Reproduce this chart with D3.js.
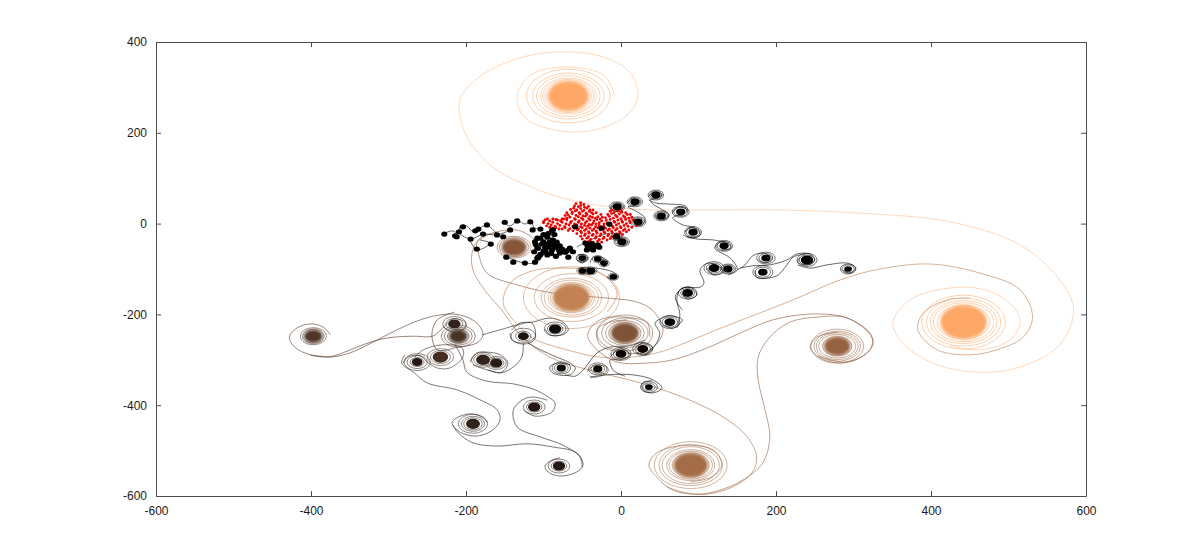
<!DOCTYPE html>
<html>
<head>
<meta charset="utf-8">
<script src="https://cdn.jsdelivr.net/npm/d3@7"></script>
<style>
html, body { margin: 0; padding: 0; background: #fff; }
svg { display: block; }
text { font-family: "Liberation Sans", sans-serif; }
</style>
</head>
<body>
<svg width="1200" height="557"></svg>
<script>
'use strict';
let xTicks = [-600, -400, -200, 0, 200, 400, 600]
let yTicks = [-600, -400, -200, 0, 200, 400]

// vortex centres, tint value (0 black .. 1 orange), core radius, rings
let vortexX = [-68, 442, -64, 90, 279, 5, -138, -397, -210, -233, -215, -263, -178, -161, -126, -85, -77, -191, -112, -80, -30, 0, 28, 36, 63, 86, 120, 138, 183, 187, 240, 293, 133, 93, 77, 52, 45, 18, 22, -5, 1, -6, -30, -22, -10, -50, -50, -39]
let vortexY = [281, -217, -163, -532, -270, -241, -52, -248, -248, -294, -221, -305, -300, -307, -248, -232, -318, -441, -404, -534, -320, -287, -276, -360, -217, -153, -98, -100, -107, -76, -80, -100, -49, -19, 26, 17, 63, 48, 4, 37, -40, -29, -78, -87, -117, -76, -104, -104]
let vortexTint = [1, 1, 0.8, 0.68, 0.62, 0.52, 0.55, 0.33, 0.3, 0.28, 0.2, 0.15, 0.2, 0.18, 0.12, 0.06, 0.05, 0.2, 0.15, 0.15, 0.04, 0.03, 0.03, 0.02, 0.01, 0, 0, 0, 0, 0, 0, 0, 0, 0, 0, 0, 0, 0, 0, 0, 0, 0, 0, 0, 0, 0, 0, 0]
let vortexCore = [26, 30, 24, 22, 17, 18, 16, 12, 12, 10, 8, 7, 9, 8, 7, 8, 6, 9, 8, 8, 6, 7, 7, 5, 7, 7, 7, 6, 6, 6, 8, 5, 6, 6, 6, 6, 6, 6, 6, 6, 6, 5, 5, 5, 5, 5, 5, 6]
let vortexRings = [
	[27, 30, 33, 36, 41, 46, 54],
	[34, 39, 43, 48, 54],
	[27, 30, 35, 39, 48, 62],
	[24, 28, 31, 37, 41, 47],
	[19, 24, 27, 30, 34],
	[21, 25, 30, 36],
	[19, 22],
	[14, 17],
	[14, 18, 22],
	[13, 17],
	[11, 15],
	[9, 13, 17],
	[12, 15],
	[10, 13],
	[10, 16],
	[10, 14],
	[9, 12],
	[12, 15, 19],
	[10, 14],
	[10, 14],
	[9, 12],
	[10, 13],
	[10, 13],
	[8, 11],
	[10, 13],
	[9, 12],
	[10, 13],
	[8, 10],
	[10, 13],
	[9, 12],
	[10, 13],
	[8, 10],
	[9, 11],
	[9, 11],
	[9, 11],
	[8, 10],
	[8, 10],
	[8, 10],
	[8, 10],
	[8, 10],
	[8, 10],
	[7],
	[7],
	[7],
	[7],
	[7, 8],
	[7],
	[8]]

// the thin paths between vortices, with their tint
let trackTint = [1, 0.78, 0.55, 0.55, 0.62, 0.68, 0.33, 0.33, 0.25, 0.2, 0.17, 0.15, 0.2, 0.18, 0.15, 0.15, 0.08, 0.06, 0.05, 0.3, 0.04, 0.03, 0.02, 0.03, 0, 0, 0, 0, 0, 0, 0, 0, 0, 0, 0, 0, 0, 0, 0, 0, 0, 0, 0, 0, 0, 0, 0, 0]
let trackPoints = [
	[[-8,281],[-21,325],[-68,345],[-117,327],[-134,281],[-124,233],[-68,202],[-14,217],[14,250],[22,288],[9,338],[-27,369],[-68,378],[-117,371],[-169,338],[-201,294],[-209,261],[-200,195],[-169,129],[-117,81],[-66,52],[-14,37],[37,30],[102,30],[205,30],[308,23],[424,4],[515,-47],[566,-124],[584,-190],[566,-267],[515,-316],[457,-327],[399,-305],[360,-256],[351,-217],[373,-168],[424,-142],[470,-146],[504,-179],[515,-217],[502,-256],[463,-278],[424,-269]],
	[[-18,-195],[-5,-153],[-27,-109],[-70,-98],[-114,-104],[-143,-131],[-152,-175],[-139,-212],[-114,-252],[-70,-278],[-27,-294],[15,-294],[50,-283],[132,-228],[222,-168],[283,-124],[334,-100],[399,-89],[463,-109],[515,-146],[531,-206],[519,-250],[485,-278],[450,-289],[408,-278],[383,-234],[390,-197],[421,-168],[450,-164]],
	[[-107,-52],[-114,-32],[-130,-16],[-147,-14],[-172,-25],[-186,-43],[-184,-65],[-173,-109],[-134,-135],[-88,-153],[-31,-162],[21,-173],[40,-190],[54,-230],[50,-256],[31,-283],[-1,-283],[-27,-267],[-31,-234],[-14,-217],[8,-212]],
	[[37,-250],[34,-219],[5,-206],[-27,-212],[-43,-245],[-31,-278],[-5,-305],[34,-307],[67,-300],[111,-274],[154,-241],[196,-212],[248,-199],[292,-208],[321,-241],[325,-267],[308,-296],[283,-307],[257,-296],[244,-272],[253,-250],[279,-239]],
	[[254,-291],[289,-305],[319,-283],[324,-252],[292,-208],[253,-206],[218,-217],[192,-250],[177,-294],[177,-344],[186,-411],[192,-470],[183,-527],[157,-565],[128,-587],[98,-596],[67,-587],[46,-558],[36,-532],[46,-505],[67,-492],[89,-488],[119,-499],[130,-532],[117,-558],[89,-569]],
	[[-160,-19],[-182,-32],[-192,-63],[-191,-102],[-173,-153],[-154,-190],[-130,-245],[-92,-294],[-40,-323],[12,-345],[50,-364],[89,-389],[132,-426],[163,-470],[175,-514],[169,-549],[144,-580],[111,-596],[83,-593],[59,-580]],
	[[-375,-245],[-384,-228],[-401,-221],[-418,-230],[-428,-250],[-421,-272],[-401,-289],[-375,-294],[-350,-285],[-320,-261],[-289,-234],[-259,-212],[-233,-201],[-208,-201],[-186,-219],[-178,-245],[-186,-263],[-210,-272],[-237,-278],[-244,-245],[-237,-212],[-215,-195]],
	[[-401,-289],[-375,-293],[-352,-280],[-330,-265],[-302,-252],[-268,-248],[-243,-248],[-230,-230],[-217,-210],[-201,-217],[-200,-228],[-215,-241],[-230,-226]],
	[[-281,-307],[-275,-294],[-259,-291],[-250,-305],[-237,-318],[-221,-318],[-204,-294],[-205,-274],[-230,-267],[-255,-278],[-266,-294]],
	[[-279,-289],[-283,-307],[-268,-327],[-250,-351],[-212,-366],[-182,-388],[-160,-410],[-156,-432],[-165,-454],[-186,-468],[-208,-459],[-218,-439],[-210,-426],[-192,-419],[-178,-428],[-172,-439]],
	[[-217,-444],[-210,-461],[-191,-483],[-160,-490],[-121,-485],[-88,-492],[-57,-505],[-49,-532],[-57,-547],[-79,-556],[-94,-547],[-98,-534],[-89,-521],[-79,-516]],
	[[-95,-389],[-114,-382],[-128,-389],[-139,-411],[-134,-448],[-104,-470],[-75,-488],[-53,-514],[-50,-536]],
	[[-214,-267],[-204,-300],[-199,-327],[-173,-347],[-139,-353],[-111,-366],[-92,-384],[-85,-395],[-89,-415],[-111,-424],[-126,-411]],
	[[-195,-305],[-186,-285],[-173,-283],[-156,-289],[-146,-307],[-154,-327],[-173,-322],[-191,-311]],
	[[-179,-245],[-156,-234],[-133,-223],[-115,-219],[-111,-250],[-126,-263],[-141,-256],[-143,-241]],
	[[-126,-263],[-128,-294],[-139,-316],[-156,-329],[-172,-322]],
	[[-141,-234],[-130,-219],[-114,-217],[-92,-208],[-75,-217],[-68,-234],[-76,-245],[-92,-245],[-98,-232]],
	[[-120,-263],[-104,-278],[-83,-294],[-68,-305],[-59,-318],[-66,-333],[-88,-329],[-92,-316],[-81,-307],[-66,-311]],
	[[-72,-333],[-59,-336],[-49,-323],[-31,-285],[-14,-272],[12,-269],[31,-256]],
	[[-44,-327],[-36,-314],[-18,-316],[-17,-327],[-31,-338],[-40,-338]],
	[[-40,-338],[-17,-333],[15,-333],[41,-344],[53,-362],[41,-373],[28,-366],[28,-351],[40,-346]],
	[[-14,-294],[-1,-276],[12,-289],[-1,-300],[-14,-300],[-10,-323],[5,-336]],
	[[31,-289],[41,-274],[46,-263],[50,-241],[44,-219],[53,-208],[63,-203],[79,-212],[67,-230],[54,-223]],
	[[19,-274],[28,-263],[41,-274],[31,-289],[19,-283]],
	[[72,-230],[76,-201],[72,-168],[76,-146],[89,-140],[98,-157],[85,-166],[79,-153]],
	[[79,-190],[70,-162],[80,-142],[102,-140],[107,-131],[102,-102],[112,-87],[128,-96],[132,-107],[119,-113],[111,-98]],
	[[138,-113],[150,-102],[141,-76],[121,-54],[128,-41],[138,-43],[142,-54],[130,-58]],
	[[85,-29],[98,-34],[119,-36],[134,-41]],
	[[83,-18],[89,-9],[99,-14],[102,-25],[92,-32],[80,-25]],
	[[66,23],[74,37],[85,30],[80,19],[70,17],[67,12],[80,-3],[95,-7]],
	[[35,59],[44,70],[53,63],[46,56],[37,52],[46,45],[63,43],[83,39],[86,30]],
	[[37,52],[41,43],[54,30],[62,19],[57,10],[46,12],[45,21]],
	[[8,45],[15,56],[25,48],[15,39],[9,37],[21,26],[31,12],[28,-1],[21,-3],[15,6]],
	[[150,-102],[160,-91],[170,-71],[183,-65],[195,-76],[186,-87],[177,-80]],
	[[154,-98],[170,-93],[192,-91],[214,-80],[227,-67],[244,-67],[250,-80],[240,-91],[228,-85],[231,-74]],
	[[173,-104],[175,-118],[190,-120],[203,-113],[214,-91],[222,-74],[238,-67]],
	[[228,-91],[244,-98],[266,-91],[292,-87],[303,-98],[295,-109],[286,-102]],
	[[-14,34],[-5,45],[3,37],[-4,26],[-14,34]],
	[[-57,-52],[-40,-36],[-14,-21],[-5,-25],[-1,-32],[9,-41],[3,-47],[-4,-43]],
	[[-40,-87],[-36,-74],[-25,-74],[-17,-85],[-23,-96]],
	[[-37,-98],[-31,-98],[-10,-107],[-4,-118],[-10,-122],[-18,-118]],
	[[-53,-98],[-44,-96],[-34,-104],[-40,-111],[-53,-109]],
	[[-55,-69],[-49,-69],[-44,-76],[-50,-87],[-57,-80]],
	[[-230,-23],[-218,-16],[-210,-21],[-207,-5],[-199,-5],[-191,-18],[-182,-10],[-174,-3],[-166,-12],[-159,-25]],
	[[-151,1],[-143,-5],[-133,6],[-124,-1],[-116,4],[-112,-9],[-104,-12]],
	[[-195,-36],[-186,-58],[-169,-43],[-182,-36]],
	[[-150,-71],[-138,-80],[-124,-87],[-108,-85],[-98,-63]],
	[[-210,-21],[-194,-34],[-178,-23],[-160,-25],[-143,-14]]]

// small black tracer blobs
let blackDots = [[-228,-23],[-214,-27],[-209,-18],[-204,-7],[-212,-29],[-188,-16],[-184,-12],[-173,-3],[-178,-23],[-194,-34],[-186,-56],[-168,-45],[-160,-25],[-152,-29],[-143,-14],[-150,3],[-134,6],[-117,4],[-114,-14],[-104,-12],[-111,-40],[-107,-54],[-148,-74],[-139,-85],[-124,-87],[-111,-85],[-107,-74],[-97,-63],[-108,-32],[-95,-30],[-88,-36],[-83,-41],[-94,-52],[-108,-54],[-89,-58],[-79,-65],[-68,-74],[-66,-54],[-108,-76],[-95,-69],[-88,-14],[-59,-7],[-25,-10],[-15,-1],[-5,-27],[-37,-45],[-46,-43],[-30,-47],[-44,-58],[-36,-58],[-104,-32],[-92,-41],[-98,-54],[-89,-16],[-66,-56],[-79,-49],[-102,-45],[-85,-52],[-72,-63],[-40,-52],[-100,-40],[-96,-46],[-90,-47],[-86,-46],[-76,-56],[-80,-58],[-70,-60],[-62,-62],[-100,-60],[-104,-68],[-90,-66],[-84,-72],[-110,-46],[-112,-62],[-43,-50],[-33,-50],[-28,-52],[-39,-44],[-94,-22],[-86,-24],[-100,-24]]

let redWalk = [[-58,44],[-52,46],[-48,42],[-42,38],[-36,30],[-32,24],[-60,39],[-55,37],[-52,40],[-47,36],[-65,31],[-61,34],[-57,30],[-52,33],[-48,29],[-44,34],[-40,30],[-70,24],[-63,25],[-59,28],[-54,24],[-50,27],[-45,23],[-41,27],[-38,24],[-12,30],[-6,32],[0,30],[6,24],[12,20],[-14,27],[-9,24],[-4,28],[1,25],[-72,18],[-68,19],[-63,22],[-58,18],[-53,21],[-49,17],[-44,20],[-40,16],[-36,21],[-26,20],[-17,20],[-12,22],[-7,18],[-2,21],[3,17],[8,20],[-74,10],[-66,14],[-60,11],[-55,15],[-51,12],[-46,16],[-42,11],[-37,14],[-33,12],[-30,15],[-24,14],[-20,13],[-15,16],[-10,12],[-5,15],[0,11],[5,14],[10,12],[14,14],[-95,10],[-88,10],[-82,8],[-76,10],[-70,12],[-98,8],[-92,6],[-84,9],[-78,6],[-70,8],[-64,5],[-59,9],[-54,6],[-49,9],[-44,5],[-40,8],[-35,6],[-31,9],[-27,10],[-25,6],[-19,7],[-14,9],[-9,5],[-4,8],[1,6],[6,9],[11,6],[16,8],[18,6],[-100,4],[-100,2],[-94,0],[-88,3],[-82,0],[-76,3],[-71,-1],[-65,2],[-60,-1],[-55,3],[-51,-1],[-46,2],[-41,-2],[-36,1],[-32,-1],[-28,2],[-22,-1],[-18,1],[-13,-1],[-8,3],[-3,0],[2,3],[7,0],[12,2],[22,2],[-96,-5],[-90,-3],[-85,-6],[-79,-4],[-73,-7],[-67,-3],[-62,-6],[-57,-3],[-52,-7],[-47,-4],[-43,-6],[-38,-3],[-33,-7],[-28,-4],[-22,-6],[-16,-3],[-11,-6],[-6,-3],[-1,-7],[4,-4],[9,-6],[20,-4],[14,-8],[-92,-8],[-88,-10],[-84,-9],[-80,-12],[-76,-12],[-72,-9],[-68,-15],[-66,-11],[-60,-9],[-55,-12],[-50,-9],[-45,-12],[-40,-10],[-35,-12],[-30,-9],[-25,-12],[-20,-10],[-15,-12],[-10,-9],[-5,-11],[0,-9],[5,-12],[10,-14],[-62,-16],[-56,-14],[-52,-17],[-47,-15],[-42,-18],[-37,-15],[-32,-17],[-27,-14],[-22,-18],[-17,-15],[-12,-17],[-7,-14],[-2,-18],[3,-15],[7,-18],[-57,-22],[-51,-20],[-46,-23],[-41,-21],[-36,-24],[-31,-21],[-26,-23],[-21,-20],[-16,-24],[-11,-21],[-6,-23],[-1,-20],[2,-24],[-52,-28],[-47,-26],[-42,-29],[-37,-26],[-32,-29],[-27,-27],[-22,-30],[-17,-27],[-12,-29],[-7,-26],[-3,-28],[-50,-34],[-44,-32],[-39,-35],[-33,-32],[-28,-35],[-23,-33],[-18,-36],[-14,-33],[-47,-40],[-41,-38],[-36,-41],[-30,-39],[-25,-41]]

let svg = d3.select("svg")
let x = d3.scaleLinear().domain([-600, 600]).range([156, 1086])
let y = d3.scaleLinear().domain([-600, 400]).range([496, 42])
let tintColor = d3.scaleLinear()
	.domain([0, 0.25, 0.5, 0.75, 1])
	.range(["#000000", "#3d2a20", "#7a4f35", "#b5794d", "#fda866"])

// radius as pixel sizes, spirals sit a bit taller than a true circle in data units
function rx(r) { return x(r) - x(0) }
function ry(r, k) { return y(0) - y(r * k) }

let defs = svg.append("defs")
defs.append("filter").attr("id", "soft")
	.attr("x", "-30%").attr("y", "-30%").attr("width", "160%").attr("height", "160%")
	.append("feGaussianBlur").attr("stdDeviation", 1.4)
defs.append("filter").attr("id", "softSmall")
	.attr("x", "-30%").attr("y", "-30%").attr("width", "160%").attr("height", "160%")
	.append("feGaussianBlur").attr("stdDeviation", 0.4)

// tracks first
let line = d3.line().x(d => x(d[0])).y(d => y(d[1])).curve(d3.curveCatmullRom.alpha(0.5))
svg.append("g").attr("class", "tracks")
	.selectAll("path")
	.data(trackPoints)
	.enter().append("path")
	.attr("d", line)
	.attr("fill", "none")
	.attr("stroke", (d, i) => tintColor(trackTint[i]))
	.attr("stroke-width", 0.75)
	.attr("stroke-opacity", (d, i) => trackTint[i] > 0.9 ? 0.6 : 0.8)

// rings around every centre
let rings = []
vortexRings.forEach((list, i) => {
	list.forEach(r => rings.push({cx: vortexX[i], cy: vortexY[i], r: r, tint: vortexTint[i]}))
})
svg.append("g").attr("class", "rings")
	.selectAll("ellipse")
	.data(rings)
	.enter().append("ellipse")
	.attr("cx", d => x(d.cx))
	.attr("cy", d => y(d.cy))
	.attr("rx", d => rx(d.r))
	.attr("ry", d => ry(d.r, 1.1))
	.attr("fill", "none")
	.attr("stroke", d => tintColor(d.tint))
	.attr("stroke-width", 0.7)
	.attr("stroke-opacity", 0.75)

// red walk
svg.append("g").attr("class", "red")
	.selectAll("circle")
	.data(redWalk)
	.enter().append("circle")
	.attr("cx", d => x(d[0]))
	.attr("cy", d => y(d[1]))
	.attr("r", 1.45)
	.attr("fill", "#f00000")

// cores
svg.append("g").attr("class", "cores")
	.selectAll("ellipse")
	.data(vortexX)
	.enter().append("ellipse")
	.attr("cx", (d, i) => x(d))
	.attr("cy", (d, i) => y(vortexY[i]))
	.attr("rx", (d, i) => rx(vortexCore[i]))
	.attr("ry", (d, i) => ry(vortexCore[i], 1.25))
	.attr("fill", (d, i) => tintColor(vortexTint[i]))
	.attr("filter", (d, i) => vortexCore[i] > 11 ? "url(#soft)" : "url(#softSmall)")

svg.append("g").attr("class", "dots")
	.selectAll("ellipse")
	.data(blackDots)
	.enter().append("ellipse")
	.attr("cx", d => x(d[0]))
	.attr("cy", d => y(d[1]))
	.attr("rx", 3.1)
	.attr("ry", 2.6)
	.attr("fill", "#000")

// axes, ticks point inward on all four sides
function styleAxis(g) {
	g.selectAll("path, line").attr("stroke", "#4d4d4d").attr("stroke-width", 1)
	g.selectAll("text").attr("fill", "#1a1a1a").attr("font-size", 12)
		.attr("font-family", "'Liberation Sans', sans-serif")
}
let bottom = d3.axisBottom(x).tickValues(xTicks).tickSize(-5).tickSizeOuter(0).tickPadding(10).tickFormat(String)
let left = d3.axisLeft(y).tickValues(yTicks).tickSize(-5).tickSizeOuter(0).tickPadding(9).tickFormat(String)
let top_ = d3.axisTop(x).tickValues(xTicks).tickSize(-5).tickSizeOuter(0).tickFormat("")
let right = d3.axisRight(y).tickValues(yTicks).tickSize(-5).tickSizeOuter(0).tickFormat("")
svg.append("g").attr("transform", "translate(0," + y(-600) + ")").call(bottom).call(styleAxis)
svg.append("g").attr("transform", "translate(" + x(-600) + ",0)").call(left).call(styleAxis)
svg.append("g").attr("transform", "translate(0," + y(400) + ")").call(top_).call(styleAxis)
svg.append("g").attr("transform", "translate(" + x(600) + ",0)").call(right).call(styleAxis)
</script>
</body>
</html>
